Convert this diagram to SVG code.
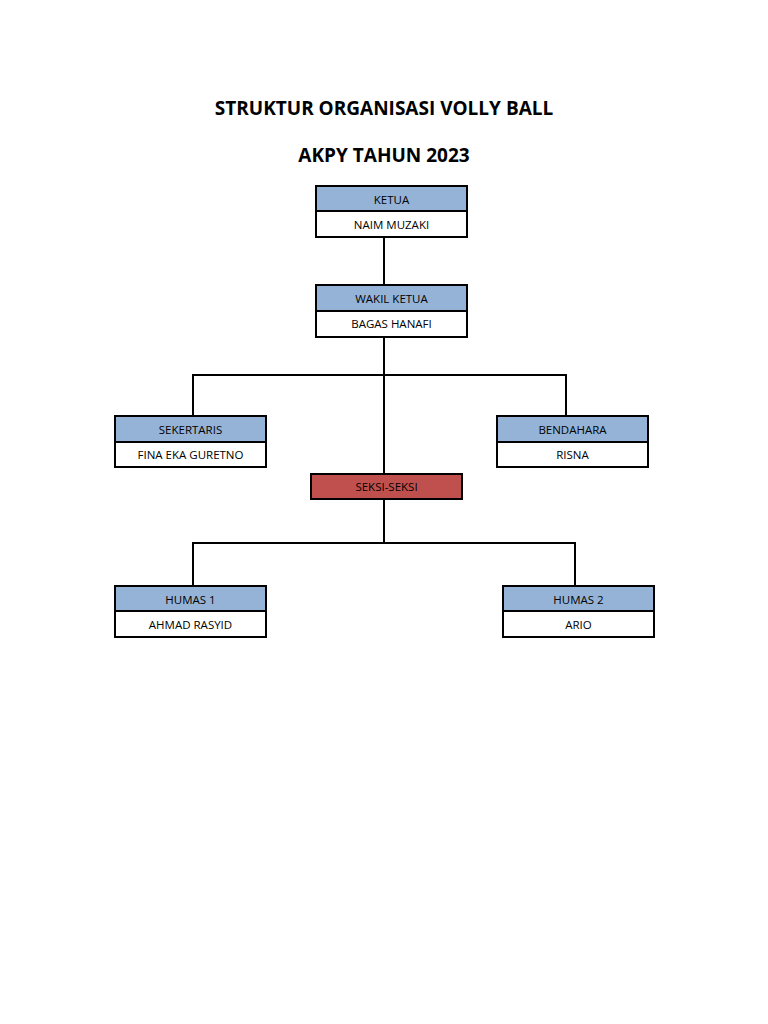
<svg xmlns="http://www.w3.org/2000/svg" width="768" height="1024" viewBox="0 0 768 1024">
<style>
.t{font-family:"Open Sans","Liberation Sans",sans-serif;font-weight:bold;font-size:19px;fill:#000;text-anchor:middle}
.l{font-family:"Open Sans","Liberation Sans",sans-serif;font-size:11.5px;fill:#000;text-anchor:middle}
.h{fill:#95B3D7;stroke:#000;stroke-width:2}
.r{fill:#C0504D;stroke:#000;stroke-width:2}
.w{fill:#fff;stroke:#000;stroke-width:2}
.c{fill:none;stroke:#000;stroke-width:2}
</style>
<rect width="768" height="1024" fill="#fff"/>
<text class="t" x="384" y="115">STRUKTUR ORGANISASI VOLLY BALL</text>
<text class="t" x="384" y="162">AKPY TAHUN 2023</text>
<g id="connectors">
<path class="c" d="M384 237V285M384 337V474M193 416V375H566V416M384 499V543M193 586V543H575V586"/>
</g>
<g id="ketua"><rect class="h" x="316" y="186" width="151" height="25"/><rect class="w" x="316" y="211" width="151" height="26"/><text class="l" x="391.5" y="204">KETUA</text><text class="l" x="391.5" y="229">NAIM MUZAKI</text></g>
<g id="wakil"><rect class="h" x="316" y="285" width="151" height="26"/><rect class="w" x="316" y="311" width="151" height="26"/><text class="l" x="391.5" y="303">WAKIL KETUA</text><text class="l" x="391.5" y="328">BAGAS HANAFI</text></g>
<g id="sekertaris"><rect class="h" x="115" y="416" width="151" height="26"/><rect class="w" x="115" y="442" width="151" height="25"/><text class="l" x="190.5" y="434">SEKERTARIS</text><text class="l" x="190.5" y="459">FINA EKA GURETNO</text></g>
<g id="bendahara"><rect class="h" x="497" y="416" width="151" height="26"/><rect class="w" x="497" y="442" width="151" height="25"/><text class="l" x="572.5" y="434">BENDAHARA</text><text class="l" x="572.5" y="459">RISNA</text></g>
<g id="seksi"><rect class="r" x="311" y="474" width="151" height="25"/><text class="l" x="386.5" y="491">SEKSI-SEKSI</text></g>
<g id="humas1"><rect class="h" x="115" y="586" width="151" height="25"/><rect class="w" x="115" y="611" width="151" height="26"/><text class="l" x="190.5" y="604">HUMAS 1</text><text class="l" x="190.5" y="629">AHMAD RASYID</text></g>
<g id="humas2"><rect class="h" x="503" y="586" width="151" height="25"/><rect class="w" x="503" y="611" width="151" height="26"/><text class="l" x="578.5" y="604">HUMAS 2</text><text class="l" x="578.5" y="629">ARIO</text></g>
</svg>
